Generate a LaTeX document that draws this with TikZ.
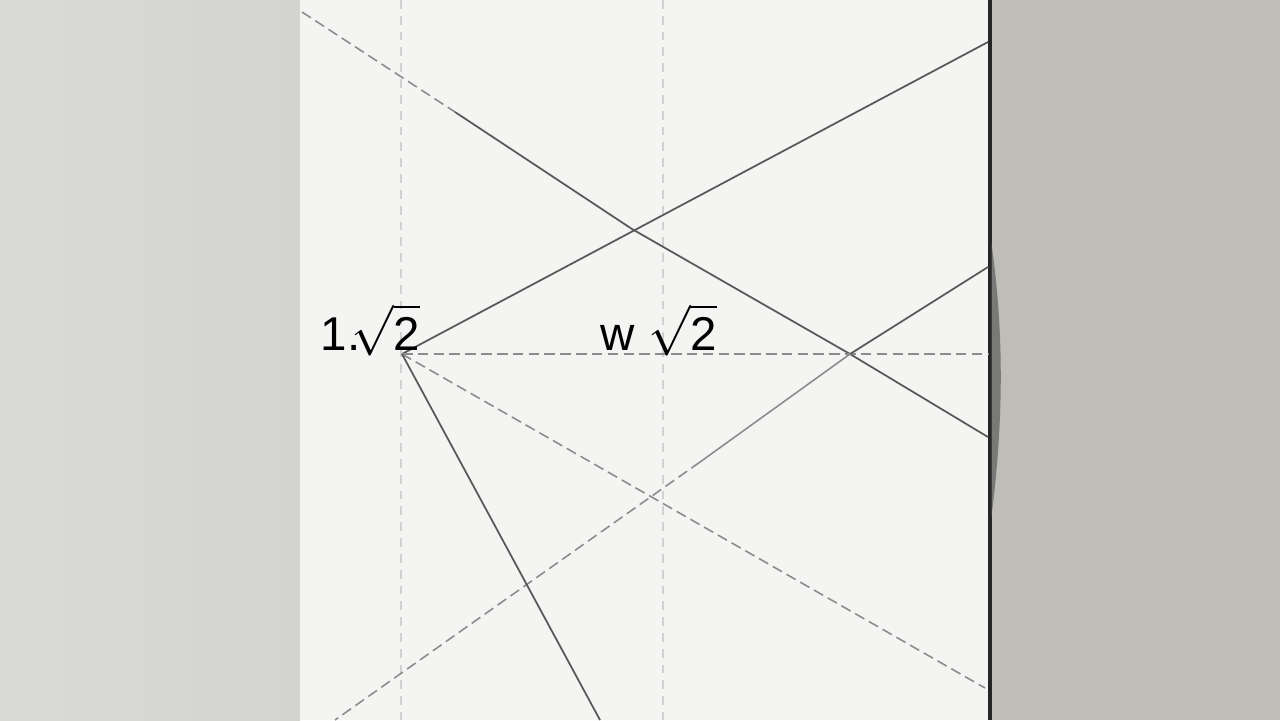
\documentclass[tikz,border=0pt]{standalone}
\usepackage{amsmath}
\usepackage{fontspec}
\setmainfont{Liberation Sans}
\usetikzlibrary{calc}
\definecolor{wallleft}{HTML}{DADAD7}
\definecolor{wallmid}{HTML}{D3D3CF}
\definecolor{wallright}{HTML}{BEBDB8}
\definecolor{paper}{HTML}{F4F4F3}

\begin{document}
\begin{tikzpicture}[x=0.01cm,y=-0.01cm,
    fold/.style={draw=black!65, line width=0.5pt},
    softfold/.style={draw=black!45, line width=0.45pt},
    crease/.style={draw=black!45, dash pattern=on 3pt off 1.5pt, line width=0.45pt},
    guide/.style={draw=black!18, dash pattern=on 2.5pt off 2pt, line width=0.5pt},
    lbl/.style={inner sep=0pt, anchor=base west, font=\fontsize{13.5}{16}\selectfont}]
    \useasboundingbox (0,0) rectangle (1280,720);
    % wall and sheet
    \shade[left color=wallleft, right color=wallmid] (0,0) rectangle (300,720);
    \fill[wallright] (992,0) rectangle (1280,720);
    \fill[paper] (300,0) rectangle (988,720);
    \fill[black!85] (988,0) rectangle (992,720);
    \fill[black!70, opacity=0.6] (991,240) .. controls (1004,330) and (1004,420) .. (991,520) -- cycle;
    % points on the sheet
    \coordinate (tl) at (302,12);
    \coordinate (tlend) at (455,112);
    \coordinate (xa) at (632,229);
    \coordinate (xb) at (850,354);
    \coordinate (xc) at (700,462);
    \coordinate (apex) at (402,354);
    \coordinate (rtop) at (988,42);
    \coordinate (rmid) at (988,267);
    \coordinate (rlow) at (988,437);
    \coordinate (rhor) at (988,354);
    \coordinate (rbot) at (985,688);
    \coordinate (bl) at (335,720);
    \coordinate (bm) at (600,720);
    \coordinate (g1t) at (401,0);
    \coordinate (g1b) at (401,720);
    \coordinate (g2t) at (663,0);
    \coordinate (g2b) at (663,720);
    % guides
    \path[guide] (g1t) -- (g1b);
    \path[guide] (g2t) -- (g2b);
    % folds
    \path[crease] (tl) -- (tlend);
    \path[fold] (tlend) -- (xa) -- (xb) -- (rlow);
    \path[fold] (apex) -- (rtop);
    \path[crease] (apex) -- (rhor);
    \path[fold] (rmid) -- (xb);
    \path[softfold] (xb) -- (xc);
    \path[crease] (xc) -- (bl);
    \path[crease] (apex) -- (rbot);
    \path[fold] (apex) -- (bm);
    % labels
    \node[lbl] (lone) at (320,350) {1.\kern-2.5pt$\sqrt{\text{2}}$};
    \node[lbl] (lw) at (600,350) {w $\sqrt{\text{2}}$};
\end{tikzpicture}
\end{document}
